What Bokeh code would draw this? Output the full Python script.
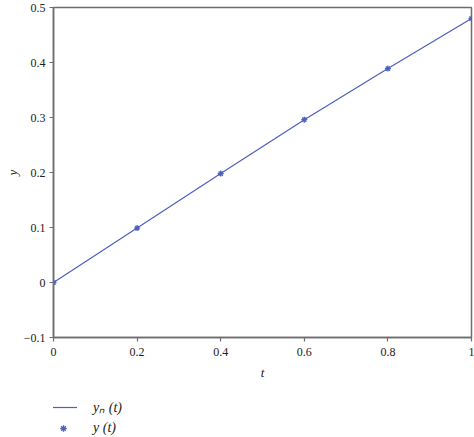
from bokeh.plotting import figure
from bokeh.models import FixedTicker, Legend, LegendItem, Range1d
from bokeh.layouts import column
from bokeh.embed import file_html
from bokeh.resources import INLINE

t_vals = [0.0, 0.2, 0.4, 0.6, 0.8, 1.0]
yn_vals = [0.0, 0.099, 0.198, 0.296, 0.389, 0.480]
y_vals = [0.0, 0.099, 0.198, 0.296, 0.389, 0.480]
x_ticks = [0, 0.2, 0.4, 0.6, 0.8, 1]
x_tick_labels = ["0", "0.2", "0.4", "0.6", "0.8", "1"]
y_ticks = [-0.1, 0, 0.1, 0.2, 0.3, 0.4, 0.5]
y_tick_labels = ["\u22120.1", "0", "0.1", "0.2", "0.3", "0.4", "0.5"]
series_labels = ["y\u2099 (t)", "y (t)"]

FONT = "Liberation Serif"
AX = "#6e6e6e"
TXT = "#222222"
BLUE = "#4d5fc0"

p = figure(width=474, height=392, output_backend="svg", toolbar_location=None,
           x_range=Range1d(0, 1), y_range=Range1d(-0.1, 0.5),
           min_border_left=53, min_border_right=3, min_border_top=7, min_border_bottom=55)

p.line(t_vals, yn_vals, line_color=BLUE, line_width=1.2)
p.scatter(t_vals, y_vals, marker="asterisk", size=6, line_color=BLUE, line_width=1.3)

p.xgrid.visible = False
p.ygrid.visible = False
p.outline_line_color = AX
p.outline_line_width = 1.5
p.outline_line_alpha = 1

for ax in (p.xaxis[0], p.yaxis[0]):
    ax.axis_line_color = AX
    ax.axis_line_width = 1.5
    ax.major_tick_line_color = AX
    ax.major_tick_line_width = 1.2
    ax.major_tick_out = 4
    ax.major_tick_in = 0
    ax.minor_tick_line_color = None
    ax.major_label_text_font = FONT
    ax.major_label_text_font_size = "12px"
    ax.major_label_text_color = TXT
    ax.axis_label_text_font = FONT
    ax.axis_label_text_font_style = "italic"
    ax.axis_label_text_font_size = "13px"
    ax.axis_label_text_color = TXT

p.xaxis.ticker = FixedTicker(ticks=x_ticks)
p.xaxis.major_label_overrides = {k: v for k, v in zip(x_ticks, x_tick_labels)}
p.yaxis.ticker = FixedTicker(ticks=y_ticks)
p.yaxis.major_label_overrides = {k: v for k, v in zip(y_ticks, y_tick_labels)}
p.xaxis.axis_label = "t"
p.yaxis.axis_label = "y"
p.xaxis.major_label_standoff = 6
p.xaxis.axis_label_standoff = 6
p.yaxis.major_label_standoff = 4
p.yaxis.axis_label_standoff = 1

# legend strip below the chart
lg = figure(width=474, height=45, output_backend="svg", toolbar_location=None,
            x_range=Range1d(2, 3), y_range=Range1d(2, 3),
            x_axis_location=None, y_axis_location=None,
            min_border_left=0, min_border_right=0, min_border_top=0, min_border_bottom=0)
lg.xgrid.visible = False
lg.ygrid.visible = False
lg.outline_line_color = None
r1 = lg.line(t_vals, yn_vals, line_color=BLUE, line_width=1.2)
r2 = lg.scatter(t_vals, y_vals, marker="asterisk", size=6, line_color=BLUE, line_width=1.3)

legend = Legend(items=[LegendItem(label=series_labels[0], renderers=[r1]),
                       LegendItem(label=series_labels[1], renderers=[r2])],
                orientation="vertical", location=(-4, 1),
                border_line_color=None, background_fill_alpha=0,
                label_text_font=FONT, label_text_font_style="italic",
                label_text_font_size="14px", label_text_color=TXT,
                glyph_width=28, glyph_height=16, label_height=16, spacing=4,
                padding=0, margin=0, label_standoff=16)
lg.add_layout(legend, "center")

layout = column(p, lg, spacing=0)
open("out.html", "w").write(file_html(layout, INLINE))
